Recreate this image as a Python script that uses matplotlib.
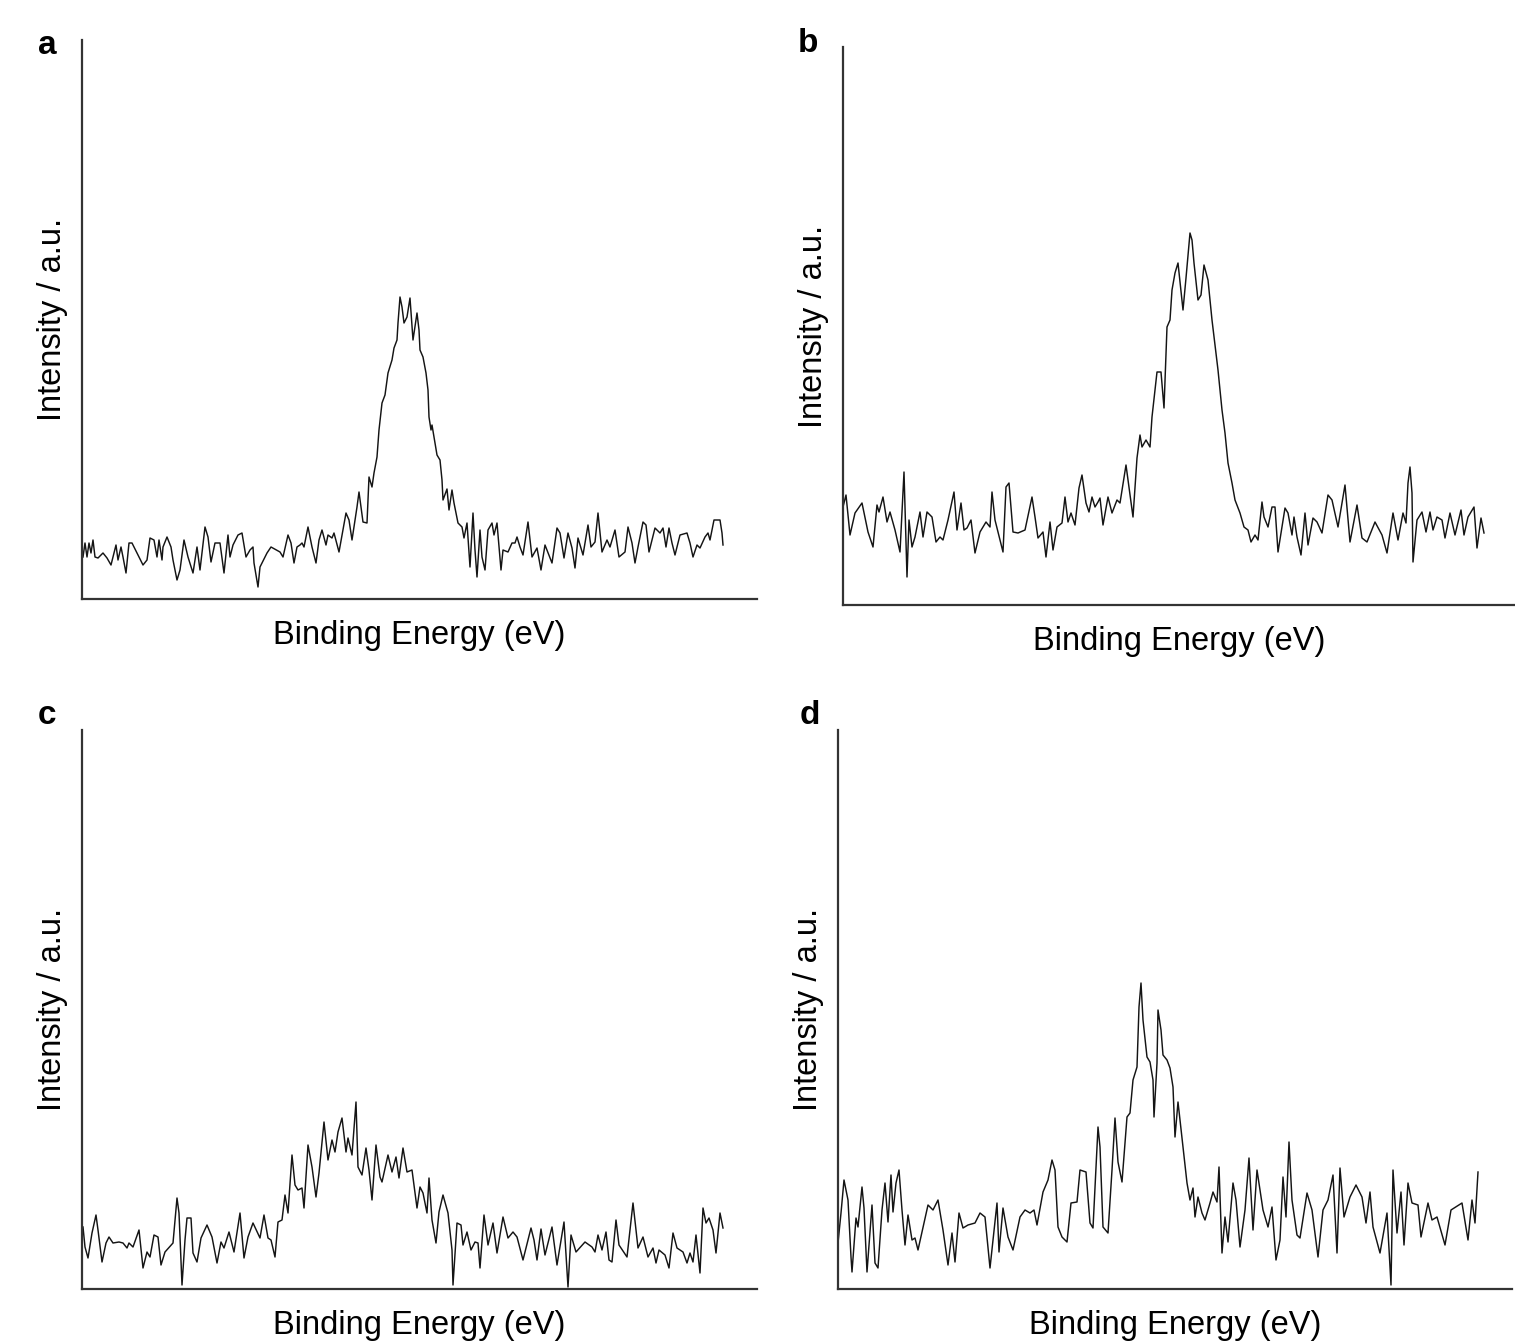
import matplotlib
matplotlib.use("Agg")
import matplotlib.pyplot as plt

plt.rcParams['font.family'] = ['Liberation Sans', 'DejaVu Sans']

# ---- Panel a ----
a_x = [1,3,5,7,9,11,13,16,21,25,29,31,34,36,39,41,44,47,50,55,61,65,68,72,75,77,80,81,85,89,
       91,95,98,102,106,111,115,118,123,126,129,133,138,142,146,148,151,156,160,164,168,171,172,176,178,185,189,198,201,206,
       209,212,215,218,
       220,222,226,230,234,237,240,244,246,250,252,257,264,267,270,275,277,281,285,287,290,292,295,297,300,303,306,310,312,315,
       316,318,320,322,325,328,331,335,337,338,341,344,346,347,349,350,352,355,358,360,361,365,367,370,372,376,380,382,385,388,
       391,393,395,398,400,403,406,410,412,415,419,421,426,430,433,
       435,438,441,446,450,455,459,463,470,475,478,482,486,490,493,496,501,506,509,513,516,520,525,528,533,537,543,546,550,553,
       556,561,564,567,573,578,581,584,587,590,593,598,605,608,611,615,618,623,626,628,632,638,640,641]
a_y = [42,56,42,56,46,59,42,41,46,41,34,42,54,39,52,42,26,56,56,46,34,39,61,59,42,59,39,52,62,52,
       39,19,29,59,42,26,52,29,72,62,37,56,56,26,64,42,54,64,66,42,49,52,36,12,32,46,52,47,42,64,
       56,36,52,54,
       56,52,72,52,36,59,69,54,64,61,66,47,86,79,59,92,107,77,76,122,112,126,142,169,196,204,226,239,251,259,
       276,302,292,276,282,301,259,286,269,249,242,226,209,182,169,174,162,144,139,119,99,110,89,109,96,76,72,61,76,32,
       86,49,22,69,42,29,69,76,64,76,29,49,47,56,56,
       62,52,44,77,42,51,29,54,36,71,66,41,66,51,31,61,44,74,52,57,86,47,59,52,69,42,47,72,56,36,
       52,77,74,47,71,66,71,52,71,56,44,64,66,56,42,54,51,62,66,59,79,79,66,54]

# ---- Panel b ----
b_x = [0,3,7,12,19,25,30,34,36,40,44,47,52,57,61,64,66,69,72,77,80,84,89,93,97,100,105,111,114,118,
       121,124,128,132,137,143,147,149,152,157,160,163,166,170,175,182,189,192,195,200,203,207,210,214,
       219,222,225,228,232,236,239,243,246,249,252,255,257,260,265,269,274,277,283,286,
       290,294,297,299,303,307,309,314,318,321,324,327,329,332,335,340,343,347,349,351,
       355,358,361,365,369,375,379,382,385,389,392,397,401,405,408,412,415,419,421,425,429,
       432,435,442,445,449,451,454,458,462,465,470,474,479,485,489,495,502,507,514,519,
       524,532,539,544,550,555,560,563,565,567,569,570,574,579,583,587,590,594,599,602,
       607,612,618,621,625,631,634,638,641]
b_y = [98,110,70,92,102,73,58,100,93,108,83,93,75,53,133,28,85,58,68,93,68,93,88,63,68,65,85,113,75,102,
       75,77,85,52,73,83,78,113,85,65,53,118,122,73,72,75,108,88,67,73,48,83,55,78,
       82,108,83,92,80,117,130,102,93,108,98,103,107,80,108,92,105,102,140,118,
       88,147,170,158,165,158,188,233,233,197,278,285,315,332,342,295,327,372,365,342,
       305,310,340,325,285,235,195,172,142,122,105,92,78,75,63,70,65,103,88,78,98,
       98,53,97,92,70,88,68,50,92,60,87,83,72,110,105,78,120,63,100,67,
       63,83,70,52,92,65,92,82,122,138,112,43,85,93,73,93,75,88,85,67,
       92,70,95,70,88,98,57,87,72]

# ---- Panel c ----
c_x = [1,3,6,10,14,16,20,24,27,31,37,41,45,47,51,57,61,65,68,72,76,79,83,91,95,97,100,103,105,109,
       111,115,119,125,130,135,139,142,147,152,158,162,166,171,178,182,186,189,193,196,200,203,206,210,213,216,
       220,222,226,230,234,237,242,246,250,253,256,260,264,266,270,274,276,280,284,287,
       290,294,298,300,306,310,314,317,321,325,330,335,338,341,345,347,350,354,357,361,
       366,370,371,375,379,381,385,389,393,396,398,402,406,411,415,421,426,431,
       435,441,449,452,455,459,463,470,475,482,486,489,494,503,510,513,516,520,524,527,
       530,534,537,545,551,556,561,566,571,574,577,583,587,591,595,601,605,608,611,614,
       618,621,624,627,631,634,638,641]
c_y = [62,42,31,56,74,59,27,46,52,46,47,46,41,46,42,59,21,37,32,54,52,24,37,46,91,76,4,49,71,71,
       36,27,51,64,52,26,47,41,57,37,76,31,52,66,51,74,51,49,32,67,69,94,76,134,104,99,
       101,81,144,122,92,116,167,129,149,137,157,171,137,151,134,187,122,114,141,119,
       89,144,112,107,134,117,132,111,141,117,119,81,102,96,76,111,69,46,77,94,
       76,39,4,66,64,44,57,39,47,46,21,74,44,66,36,72,51,57,
       52,29,61,49,29,60,34,62,24,67,2,54,37,47,42,37,54,39,57,29,
       27,69,44,32,86,41,52,32,41,26,39,34,21,56,41,37,26,36,27,54,
       16,81,66,71,59,36,76,61]

# ---- Panel d ----
d_x = [0,3,6,10,13,14,18,20,24,26,29,34,37,40,44,47,50,53,55,58,61,64,67,70,74,77,80,90,95,100,
       105,110,114,117,121,125,130,137,142,147,152,159,161,165,170,175,182,187,192,196,199,205,210,214,
       217,220,224,229,233,239,242,248,252,255,260,262,265,270,274,277,280,284,289,292,
       295,299,301,303,305,309,312,315,316,319,320,323,325,329,332,335,337,340,342,345,
       349,352,355,357,360,364,367,372,375,379,381,384,387,390,395,398,402,407,411,415,419,425,430,
       434,438,442,445,448,451,454,459,462,469,474,480,485,490,495,499,502,506,512,518,
       524,528,532,535,542,549,552,553,555,559,563,566,570,574,580,583,590,594,599,607,
       613,624,630,634,637,640]
d_y = [46,76,109,89,32,17,71,62,102,81,17,84,26,21,79,106,67,114,77,106,119,79,44,74,49,51,39,84,79,89,
       59,24,56,27,76,61,64,66,76,72,21,86,37,81,52,39,72,79,76,79,64,97,109,129,
       119,62,52,47,86,87,119,117,66,61,162,142,62,56,119,171,127,107,172,176,
       209,222,282,306,269,232,227,209,172,226,279,259,234,229,221,202,152,187,169,142,
       106,89,101,72,92,76,69,86,97,87,122,36,72,47,106,89,42,79,131,59,119,79,62,
       82,29,49,112,72,147,89,54,51,96,79,32,79,89,114,36,121,72,92,104,
       92,66,97,62,36,76,21,4,119,56,97,44,106,86,84,52,86,69,72,44,
       79,86,49,89,66,117]

panels = [
    ("a", a_x, a_y, (82, 599, 757, 40), 675),
    ("b", b_x, b_y, (843, 605, 1515, 47), 672),
    ("c", c_x, c_y, (82, 1289, 757, 730), 675),
    ("d", d_x, d_y, (838, 1289, 1512, 730), 674),
]
label_pos = {"a": (47, 45), "b": (808, 44), "c": (47, 716), "d": (810, 716)}

W, H = 1515, 1341
fig = plt.figure(figsize=(W / 100, H / 100), dpi=100)

for name, xs, ys, (l, b, r, t), xmax in panels:
    ax = fig.add_axes([l / W, 1 - b / H, (r - l) / W, (b - t) / H])
    ax.plot(xs, ys, color="#141414", lw=1.05)
    ax.set_xlim(0, xmax)
    ax.set_ylim(0, b - t)
    ax.set_xticks([])
    ax.set_yticks([])
    for s in ("top", "right"):
        ax.spines[s].set_visible(False)
    for s in ("left", "bottom"):
        ax.spines[s].set_color("#333333")
        ax.spines[s].set_linewidth(1.6)
    ax.set_xlabel("Binding Energy (eV)", fontsize=23.5)
    ax.set_ylabel("Intensity / a.u.", fontsize=23.5)
    ax.xaxis.set_label_coords(0.5, -21 / (b - t))
    ax.yaxis.set_label_coords(-14 / (r - l), 0.5)
    px, py = label_pos[name]
    fig.text(px / W, 1 - py / H, name, fontsize=24, fontweight="bold",
             ha="center", va="center")

fig.savefig("out.png", dpi=100)
